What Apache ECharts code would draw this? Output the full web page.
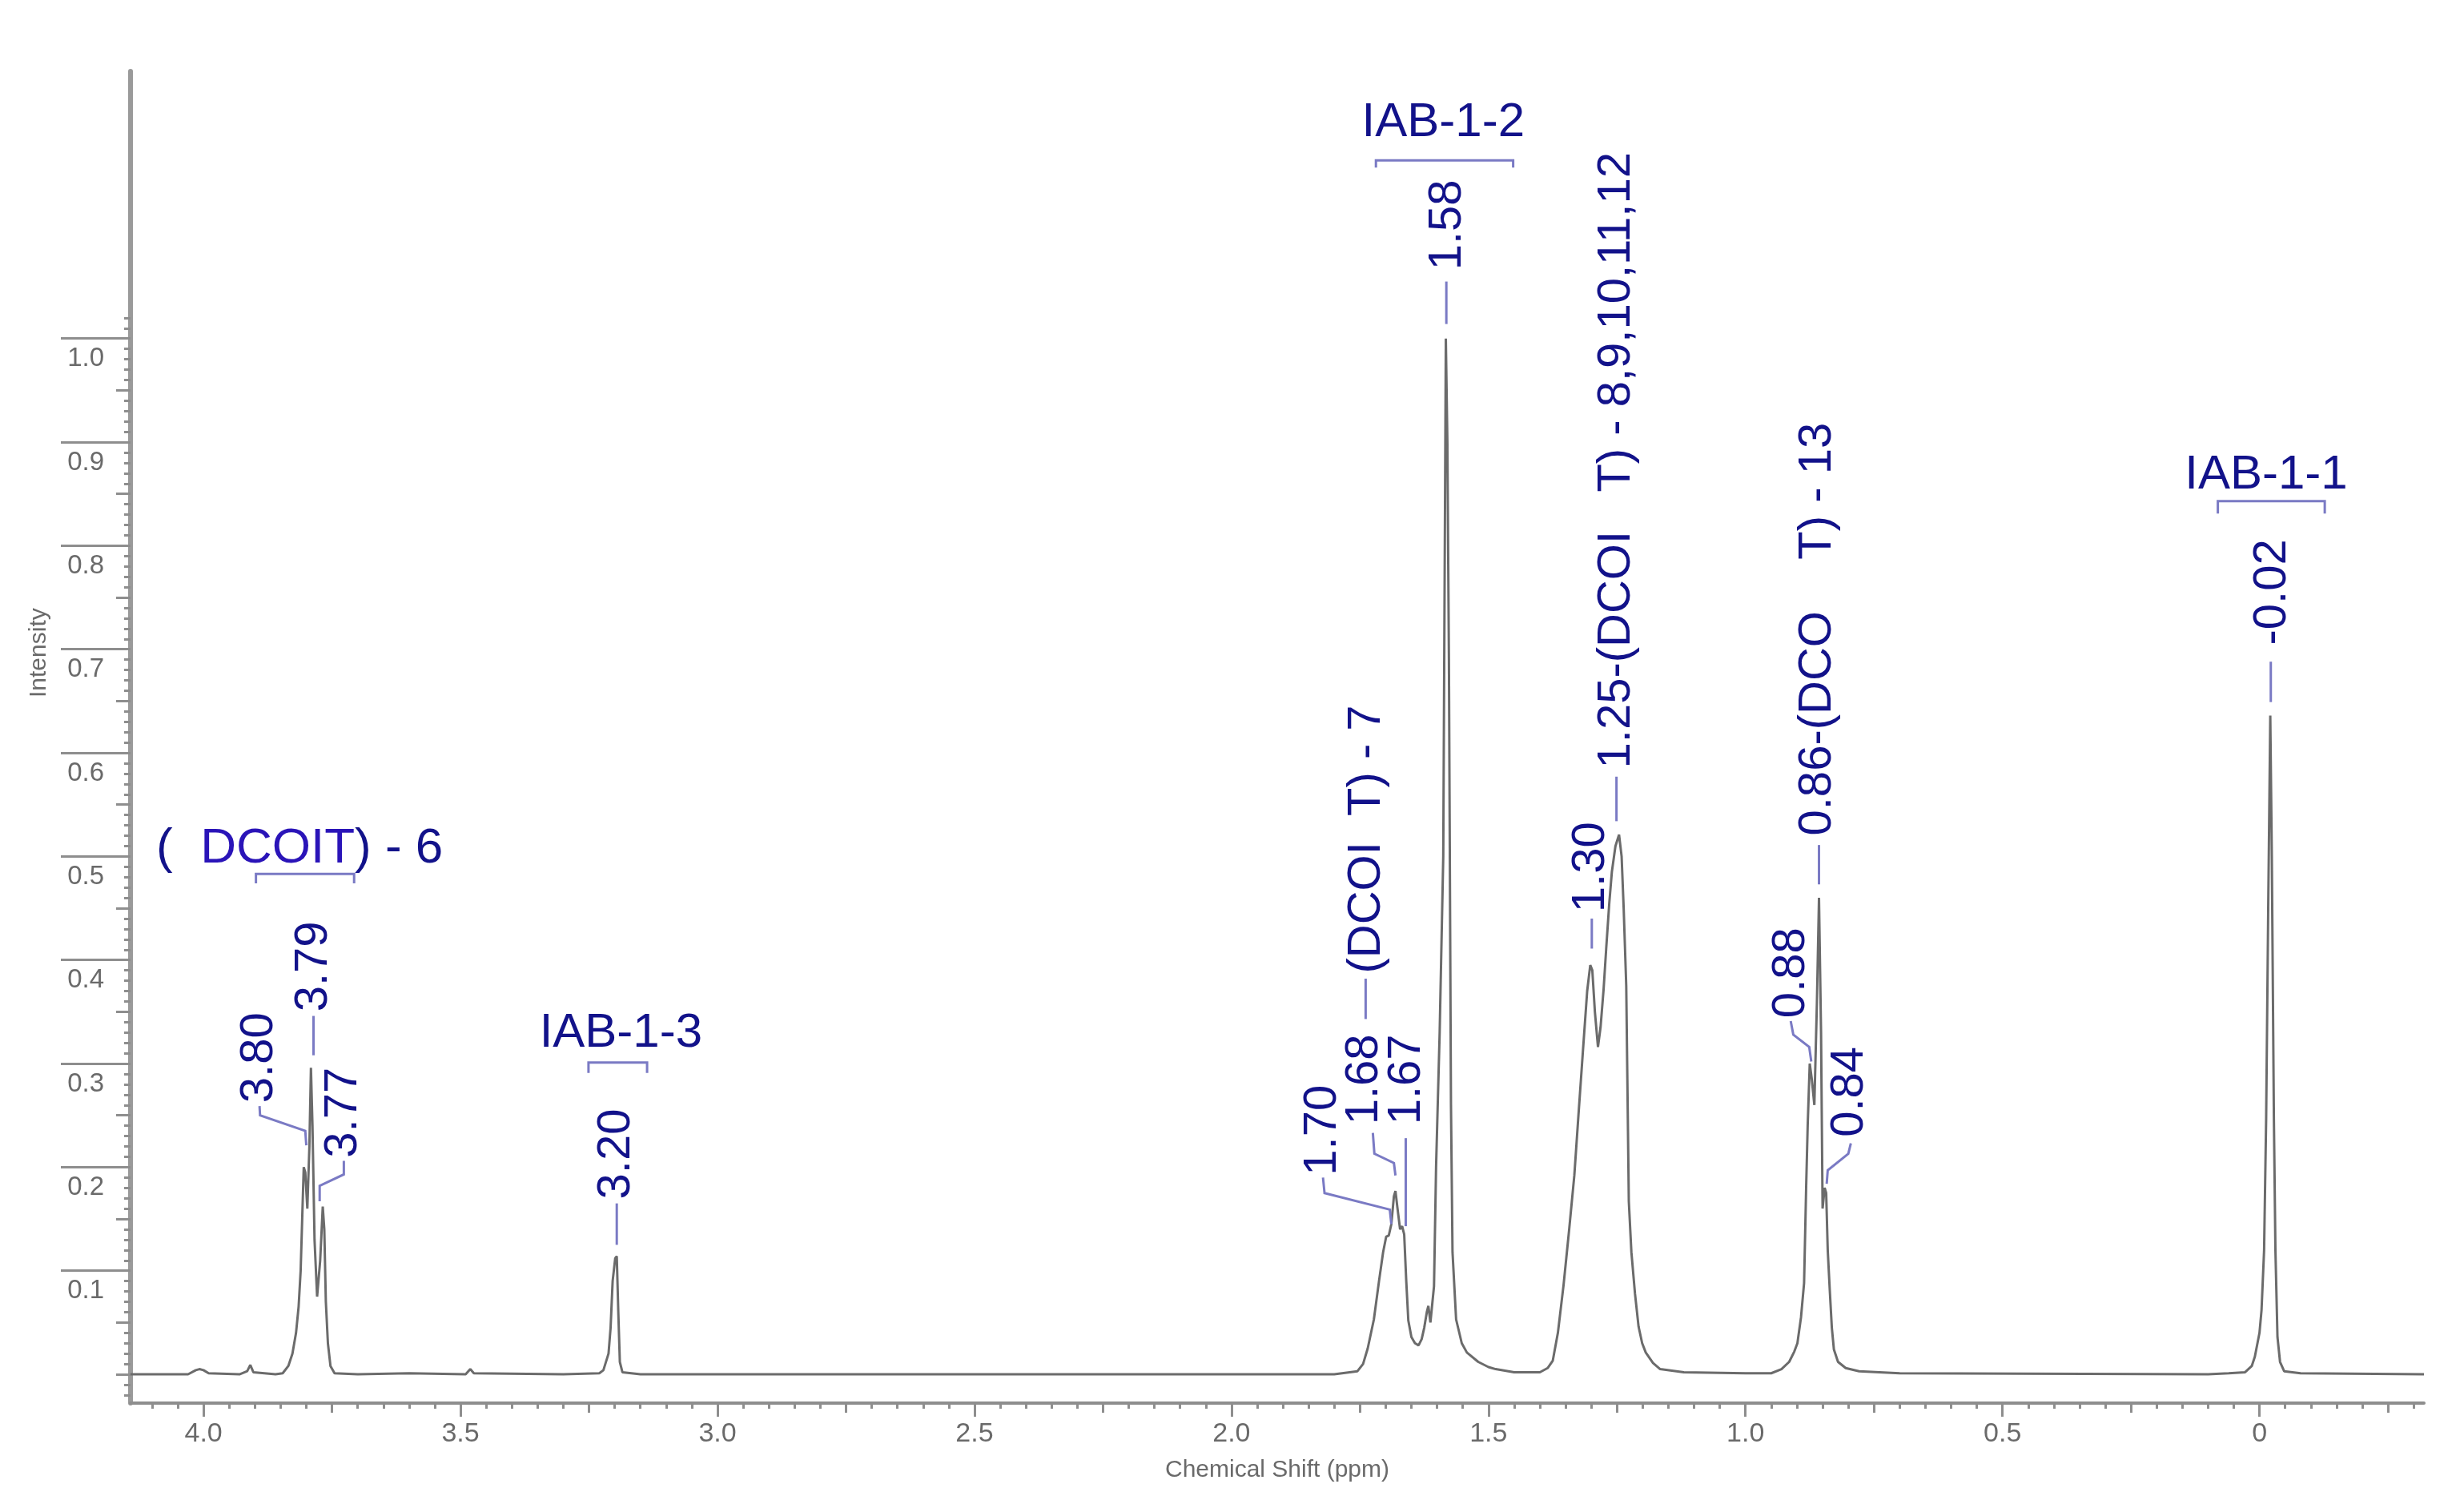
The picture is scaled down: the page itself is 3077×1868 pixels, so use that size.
<!DOCTYPE html>
<html>
<head>
<meta charset="utf-8">
<script src="https://cdn.jsdelivr.net/npm/echarts@6/dist/echarts.min.js"></script>
<style>html,body{margin:0;padding:0;background:#fff}#c{width:3077px;height:1868px}</style>
</head>
<body>
<div id="c"></div>
<script>
// ---- data: [chemical shift (ppm), intensity] ----
const spectrum = [
 [4.142,0.000],[4.030,0.000],[4.015,0.004],[4.008,0.005],[4.000,0.004],[3.990,0.001],[3.930,0.000],
 [3.915,0.003],[3.909,0.009],[3.903,0.002],[3.860,0.000],[3.846,0.001],[3.835,0.008],[3.827,0.020],
 [3.820,0.040],[3.815,0.065],[3.811,0.100],[3.808,0.150],[3.805,0.200],[3.802,0.195],[3.798,0.160],
 [3.794,0.220],[3.791,0.296],[3.788,0.240],[3.784,0.130],[3.779,0.075],[3.773,0.110],[3.768,0.162],
 [3.765,0.140],[3.762,0.070],[3.758,0.030],[3.753,0.008],[3.745,0.001],[3.700,0.000],[3.600,0.001],
 [3.490,0.000],[3.481,0.005],[3.474,0.001],[3.300,0.000],[3.230,0.001],[3.222,0.004],[3.212,0.020],
 [3.208,0.045],[3.204,0.090],[3.199,0.112],[3.196,0.114],[3.193,0.060],[3.190,0.012],[3.185,0.002],
 [3.150,0.000],[2.500,0.000],[1.800,0.000],[1.755,0.003],[1.744,0.010],[1.735,0.025],[1.723,0.053],
 [1.713,0.090],[1.705,0.118],[1.699,0.133],[1.694,0.134],[1.689,0.145],[1.684,0.172],[1.681,0.177],
 [1.677,0.160],[1.672,0.140],[1.668,0.143],[1.664,0.135],[1.660,0.090],[1.656,0.052],[1.650,0.036],
 [1.643,0.030],[1.636,0.028],[1.630,0.034],[1.625,0.045],[1.620,0.060],[1.617,0.066],[1.613,0.050],
 [1.609,0.070],[1.606,0.085],[1.602,0.200],[1.595,0.330],[1.588,0.500],[1.583,1.000],[1.580,0.900],
 [1.577,0.690],[1.573,0.260],[1.570,0.118],[1.563,0.053],[1.552,0.030],[1.542,0.021],[1.520,0.012],
 [1.500,0.007],[1.486,0.005],[1.450,0.002],[1.400,0.002],[1.385,0.006],[1.375,0.013],[1.365,0.040],
 [1.354,0.086],[1.343,0.140],[1.333,0.192],[1.325,0.250],[1.316,0.314],[1.308,0.370],[1.302,0.395],
 [1.298,0.390],[1.293,0.350],[1.287,0.316],[1.282,0.335],[1.276,0.372],[1.271,0.411],[1.265,0.455],
 [1.260,0.485],[1.253,0.510],[1.246,0.521],[1.241,0.500],[1.237,0.450],[1.232,0.375],[1.227,0.167],
 [1.222,0.118],[1.215,0.078],[1.208,0.046],[1.201,0.030],[1.194,0.021],[1.180,0.011],[1.166,0.005],
 [1.120,0.002],[1.000,0.001],[0.950,0.001],[0.930,0.005],[0.915,0.012],[0.905,0.022],[0.899,0.030],
 [0.892,0.055],[0.886,0.088],[0.882,0.180],[0.879,0.240],[0.875,0.300],[0.871,0.285],[0.866,0.260],
 [0.861,0.360],[0.857,0.460],[0.853,0.330],[0.850,0.160],[0.846,0.180],[0.843,0.175],[0.840,0.120],
 [0.836,0.081],[0.832,0.045],[0.828,0.024],[0.820,0.012],[0.805,0.006],[0.779,0.003],[0.700,0.001],
 [0.100,0.000],[0.060,0.001],[0.028,0.002],[0.015,0.008],[0.009,0.017],[0.000,0.040],[-0.004,0.062],
 [-0.009,0.120],[-0.013,0.248],[-0.017,0.450],[-0.021,0.636],[-0.024,0.500],[-0.028,0.248],
 [-0.031,0.120],[-0.035,0.036],[-0.040,0.012],[-0.048,0.003],[-0.080,0.001],[-0.320,0.000]
];

// ---- axis ticks and labels ----
const xTickValues = [4.0, 3.5, 3.0, 2.5, 2.0, 1.5, 1.0, 0.5, 0];
const xTickLabels = ['4.0','3.5','3.0','2.5','2.0','1.5','1.0','0.5','0'];
const xMidTicks = [3.75, 3.25, 2.75, 2.25, 1.75, 1.25, 0.75, 0.25, -0.25];
const yTickValues = [0.1, 0.2, 0.3, 0.4, 0.5, 0.6, 0.7, 0.8, 0.9, 1.0];
const yTickLabels = ['0.1','0.2','0.3','0.4','0.5','0.6','0.7','0.8','0.9','1.0'];
const yMidTicks = [0, 0.05, 0.15, 0.25, 0.35, 0.45, 0.55, 0.65, 0.75, 0.85, 0.95];
const xMinorTicks = [];
for (let k = 82; k >= -6; k--) xMinorTicks.push(+(k * 0.05).toFixed(2));
const yMinorTicks = [];
for (let k = -2; k <= 102; k++) yMinorTicks.push(+(k * 0.01).toFixed(2));

// ---- peak annotations (text, anchor [ppm, intensity], leader path in data coords) ----
const peakLabels = [
 { text: '3.80', at: [3.891, 0.262], leader: [[3.891,0.259],[3.890,0.250],[3.802,0.235],[3.800,0.221]] },
 { text: '3.79', at: [3.786, 0.350], leader: [[3.786,0.346],[3.786,0.308]] },
 { text: '3.77', at: [3.727, 0.209], leader: [[3.727,0.206],[3.727,0.193],[3.774,0.182],[3.774,0.167]] },
 { text: '3.20', at: [3.196, 0.169], leader: [[3.196,0.165],[3.196,0.125]] },
 { text: '1.70', at: [1.822, 0.192], leader: [[1.822,0.190],[1.819,0.175],[1.692,0.159],[1.689,0.145]] },
 { text: '1.68', at: [1.741, 0.241], leader: [[1.725,0.233],[1.722,0.213],[1.684,0.204],[1.681,0.192]] },
 { text: '(DCOI  T) - 7', at: [1.736, 0.387], leader: [[1.739,0.382],[1.739,0.343]] },
 { text: '1.67', at: [1.658, 0.241], leader: [[1.661,0.228],[1.661,0.143]] },
 { text: '1.58', at: [1.579, 1.066], leader: [[1.582,1.055],[1.582,1.014]] },
 { text: '1.30', at: [1.301, 0.446], leader: [[1.299,0.440],[1.299,0.411]] },
 { text: '1.25-(DCOI   T) - 8,9,10,11,12', at: [1.251, 0.585], leader: [[1.251,0.577],[1.251,0.534]] },
 { text: '0.86-(DCO    T) - 13', at: [0.859, 0.520], leader: [[0.857,0.511],[0.857,0.473]] },
 { text: '0.88', at: [0.911, 0.344], leader: [[0.912,0.341],[0.907,0.328],[0.876,0.316],[0.872,0.302]] },
 { text: '0.84', at: [0.797, 0.229], leader: [[0.795,0.223],[0.800,0.213],[0.840,0.197],[0.842,0.184]] },
 { text: '-0.02', at: [-0.026, 0.704], leader: [[-0.022,0.688],[-0.022,0.649]] }
];

// ---- multiplet group labels with brackets: bracket = [ppmFrom, ppmTo, lineLevel, tickEndLevel] ----
const groupLabels = [
 { parts: ['(  ', 'DCOIT', ') - 6'], at: [4.092, 0.507], align: 'left', bracket: [3.898, 3.707, 0.483, 0.474] },
 { parts: ['IAB-1-3'], at: [3.188, 0.329], align: 'center', bracket: [3.251, 3.137, 0.301, 0.291] },
 { parts: ['IAB-1-2'], at: [1.588, 1.208], align: 'center', bracket: [1.719, 1.452, 1.172, 1.165] },
 { parts: ['IAB-1-1'], at: [-0.013, 0.868], align: 'center', bracket: [0.081, -0.127, 0.843, 0.831] }
];

const FONT = 'Liberation Sans, Arial, sans-serif';
const TEXT_COLOR = '#12128a';
const DCOIT_COLOR = '#2a14b8';
const LEADER_COLOR = '#7a7ac4';
const AXIS_COLOR = '#8e8e8e';
const LABEL_COLOR = '#6a6a6a';

const chart = echarts.init(document.getElementById('c'), null, { renderer: 'canvas' });

const xBase = {
  type: 'value', inverse: true, min: -0.32, max: 4.142, position: 'bottom',
  splitLine: { show: false }, gridIndex: 0
};
const yBase = {
  type: 'value', min: -0.0278, max: 1.258, position: 'left',
  splitLine: { show: false }, gridIndex: 0
};

function renderPeak(params, api) {
  const d = peakLabels[params.dataIndex];
  const p = api.coord(d.at);
  return {
    type: 'group',
    children: [
      { type: 'polyline', shape: { points: d.leader.map(q => api.coord(q)) },
        style: { stroke: LEADER_COLOR, lineWidth: 3, fill: null } },
      { type: 'text', x: p[0], y: p[1], rotation: Math.PI / 2,
        style: { text: d.text, fontSize: 58, fontFamily: FONT, fill: TEXT_COLOR,
                 align: 'left', verticalAlign: 'middle' } }
    ]
  };
}

function renderGroup(params, api) {
  const d = groupLabels[params.dataIndex];
  const p = api.coord(d.at);
  const b = d.bracket;
  const a1 = api.coord([b[0], b[3]]), a2 = api.coord([b[0], b[2]]);
  const a3 = api.coord([b[1], b[2]]), a4 = api.coord([b[1], b[3]]);
  let txt, rich, size = 60;
  if (d.parts.length === 3) {
    size = 62;
    txt = '{p|' + d.parts[0] + '}{d|' + d.parts[1] + '}{p|' + d.parts[2] + '}';
    rich = { p: { fill: TEXT_COLOR, fontSize: size, fontFamily: FONT },
             d: { fill: DCOIT_COLOR, fontSize: size, fontFamily: FONT } };
  } else {
    txt = d.parts[0];
    rich = undefined;
  }
  return {
    type: 'group',
    children: [
      { type: 'polyline', shape: { points: [a1, a2, a3, a4] },
        style: { stroke: LEADER_COLOR, lineWidth: 3, fill: null } },
      { type: 'text', x: p[0], y: p[1],
        style: { text: txt, rich: rich, fontSize: size, fontFamily: FONT, fill: TEXT_COLOR,
                 align: d.align, verticalAlign: 'middle' } }
    ]
  };
}

const option = {
  backgroundColor: '#ffffff',
  animation: false,
  grid: { left: 163, right: 50, top: 89, bottom: 116, containLabel: false },
  xAxis: [
    Object.assign({}, xBase, {
      axisLine: { show: true, onZero: false, lineStyle: { color: AXIS_COLOR, width: 4 } },
      axisTick: { show: true, customValues: xTickValues, length: 17, lineStyle: { color: AXIS_COLOR, width: 3 } },
      axisLabel: { show: true, customValues: xTickValues, margin: 22, fontSize: 34, fontFamily: FONT, color: LABEL_COLOR,
        formatter: v => { const i = xTickValues.findIndex(t => Math.abs(t - v) < 1e-6); return i >= 0 ? xTickLabels[i] : ''; } },
      name: 'Chemical Shift (ppm)', nameLocation: 'middle', nameGap: 69,
      nameTextStyle: { fontSize: 30, fontFamily: FONT, color: LABEL_COLOR }
    }),
    Object.assign({}, xBase, {
      axisLine: { show: false, onZero: false },
      axisTick: { show: true, customValues: xMidTicks, length: 12, lineStyle: { color: AXIS_COLOR, width: 3 } },
      axisLabel: { show: false }
    }),
    Object.assign({}, xBase, {
      axisLine: { show: false, onZero: false },
      axisTick: { show: true, customValues: xMinorTicks, length: 7, lineStyle: { color: AXIS_COLOR, width: 3 } },
      axisLabel: { show: false }
    })
  ],
  yAxis: [
    Object.assign({}, yBase, {
      axisLine: { show: true, onZero: false, lineStyle: { color: '#9a9a9a', width: 6 } },
      axisTick: { show: true, customValues: yTickValues, length: 87, lineStyle: { color: AXIS_COLOR, width: 3 } },
      axisLabel: { show: true, customValues: yTickValues, margin: 33, fontSize: 33, fontFamily: FONT, color: LABEL_COLOR,
        verticalAlign: 'top', padding: [9, 0, 0, 0],
        formatter: v => { const i = yTickValues.findIndex(t => Math.abs(t - v) < 1e-6); return i >= 0 ? yTickLabels[i] : ''; } }
    }),
    Object.assign({}, yBase, {
      axisLine: { show: false, onZero: false },
      axisTick: { show: true, customValues: yMidTicks, length: 18, lineStyle: { color: AXIS_COLOR, width: 3 } },
      axisLabel: { show: false }
    }),
    Object.assign({}, yBase, {
      axisLine: { show: false, onZero: false },
      axisTick: { show: true, customValues: yMinorTicks, length: 8, lineStyle: { color: AXIS_COLOR, width: 3 } },
      axisLabel: { show: false }
    })
  ],
  graphic: [
    { type: 'text', x: 49, y: 871, rotation: Math.PI / 2,
      style: { text: 'Intensity', fontSize: 30, fontFamily: FONT, fill: LABEL_COLOR, align: 'left', verticalAlign: 'middle' } }
  ],
  series: [
    { type: 'line', xAxisIndex: 0, yAxisIndex: 0, data: spectrum, showSymbol: false, symbol: 'none',
      lineStyle: { color: '#6b6b6b', width: 3 }, z: 2, silent: true },
    { type: 'custom', xAxisIndex: 0, yAxisIndex: 0, renderItem: renderPeak, silent: true, z: 3,
      data: peakLabels.map(d => [d.at[0], d.at[1]]), encode: { x: 0, y: 1 }, clip: false },
    { type: 'custom', xAxisIndex: 0, yAxisIndex: 0, renderItem: renderGroup, silent: true, z: 3,
      data: groupLabels.map(d => [d.at[0], d.at[1]]), encode: { x: 0, y: 1 }, clip: false }
  ]
};
chart.setOption(option);
</script>
</body>
</html>
